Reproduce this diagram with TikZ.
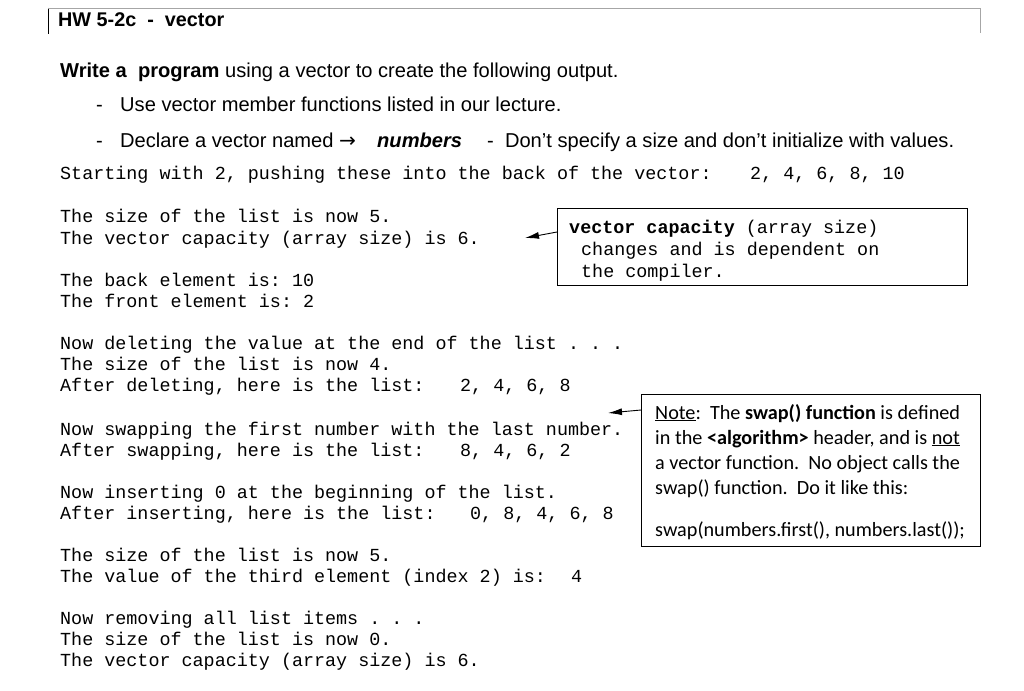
\documentclass[tikz,border=0pt]{standalone}
\usepackage{fontspec}
\setmainfont{Liberation Sans}
\setmonofont{Liberation Mono}
\newfontfamily\notefont{Carlito}
\newfontfamily\symfont{DejaVu Sans}
\usetikzlibrary{arrows.meta}
\begin{document}
\begin{tikzpicture}[x=1pt,y=-1pt,
  mono/.style={anchor=base west,inner sep=0pt,font=\fontsize{18.4}{21}\ttfamily},
  sans/.style={anchor=base west,inner sep=0pt,font=\fontsize{20.1}{22}\selectfont},
  note/.style={anchor=base west,inner sep=0pt,font=\fontsize{20.2}{22}\notefont},
  box/.style={draw=black,line width=1pt},
  arr/.style={-{Latex[length=14pt,width=7pt]},line width=0.9pt}]
\useasboundingbox (0,0) rectangle (1024,690);
% header
\draw[line width=1pt] (48,8) -- (48,34);
\draw[gray!70,line width=0.8pt] (48,8) -- (980,8) -- (980,33);
\node[sans,font=\fontsize{19.8}{22}\bfseries] (hdr) at (58,27) {HW 5-2c\ \ -\ \ vector};
% instructions
\node[sans] (l1) at (60,78) {\textbf{Write a\ \ program} using a vector to create the following output.};
\node[sans] (d1) at (96,111) {-};
\node[sans] (l2) at (120,111) {Use vector member functions listed in our lecture.};
\node[sans] (d2) at (96,147) {-};
\node[sans] (l3) at (120,147) {Declare a vector named {\symfont→}};
\node[sans] (l3n) at (377,147) {\textbf{\textit{numbers}}};
\node[sans] (l3b) at (487,147) {-\ \ Don’t specify a size and don’t initialize with values.};
% output
\node[mono] (o1) at (60,179) {Starting with 2, pushing these into the back of the vector:};
\node[mono] (o1b) at (750,179) {2, 4, 6, 8, 10};
\node[mono] (o2) at (60,222) {The size of the list is now 5.};
\node[mono] (o3) at (60,244) {The vector capacity (array size) is 6.};
\node[mono] (o4) at (60,286) {The back element is: 10};
\node[mono] (o5) at (60,307) {The front element is: 2};
\node[mono] (o6) at (60,349) {Now deleting the value at the end of the list . . .};
\node[mono] (o7) at (60,370) {The size of the list is now 4.};
\node[mono] (o8) at (60,391) {After deleting, here is the list:};
\node[mono] (o8b) at (460,391) {2, 4, 6, 8};
\node[mono] (o9) at (60,435) {Now swapping the first number with the last number.};
\node[mono] (o10) at (60,456) {After swapping, here is the list:};
\node[mono] (o10b) at (460,456) {8, 4, 6, 2};
\node[mono] (o11) at (60,498) {Now inserting 0 at the beginning of the list.};
\node[mono] (o12) at (60,519) {After inserting, here is the list:};
\node[mono] (o12b) at (470,519) {0, 8, 4, 6, 8};
\node[mono] (o13) at (60,561) {The size of the list is now 5.};
\node[mono] (o14) at (60,582) {The value of the third element (index 2) is:};
\node[mono] (o14b) at (571,582) {4};
\node[mono] (o15) at (60,624) {Now removing all list items . . .};
\node[mono] (o16) at (60,645) {The size of the list is now 0.};
\node[mono] (o17) at (60,666) {The vector capacity (array size) is 6.};
% box 1
\begin{scope}
\clip (557,208) rectangle (967,285);
\node[mono] (b1a) at (569,233) {\textbf{vector capacity} (array size)};
\node[mono] (b1b) at (581,255) {changes and is dependent on};
\node[mono] (b1c) at (581,277) {the compiler.};
\end{scope}
\draw[box] (557,208) rectangle (967,285);
\coordinate (b1l) at (557,232);
\coordinate (b1t) at (525,238);
\draw[arr] (b1l) -- (b1t);
% box 2
\draw[box] (641,394) rectangle (980,546);
\node[note] (n1) at (655,419) {\underline{Note}:\ \ The \textbf{swap() function} is defined};
\node[note] (n2) at (655,444) {in the \textbf{<algorithm>} header, and is \underline{not}};
\node[note] (n3) at (655,469) {a vector function.\ \ No object calls the};
\node[note] (n4) at (655,494) {swap() function.\ \ Do it like this:};
\node[note] (n5) at (655,536) {swap(numbers.first(), numbers.last());};
\coordinate (b2l) at (641,410);
\coordinate (b2t) at (608,413);
\draw[arr] (b2l) -- (b2t);
\end{tikzpicture}
\end{document}
